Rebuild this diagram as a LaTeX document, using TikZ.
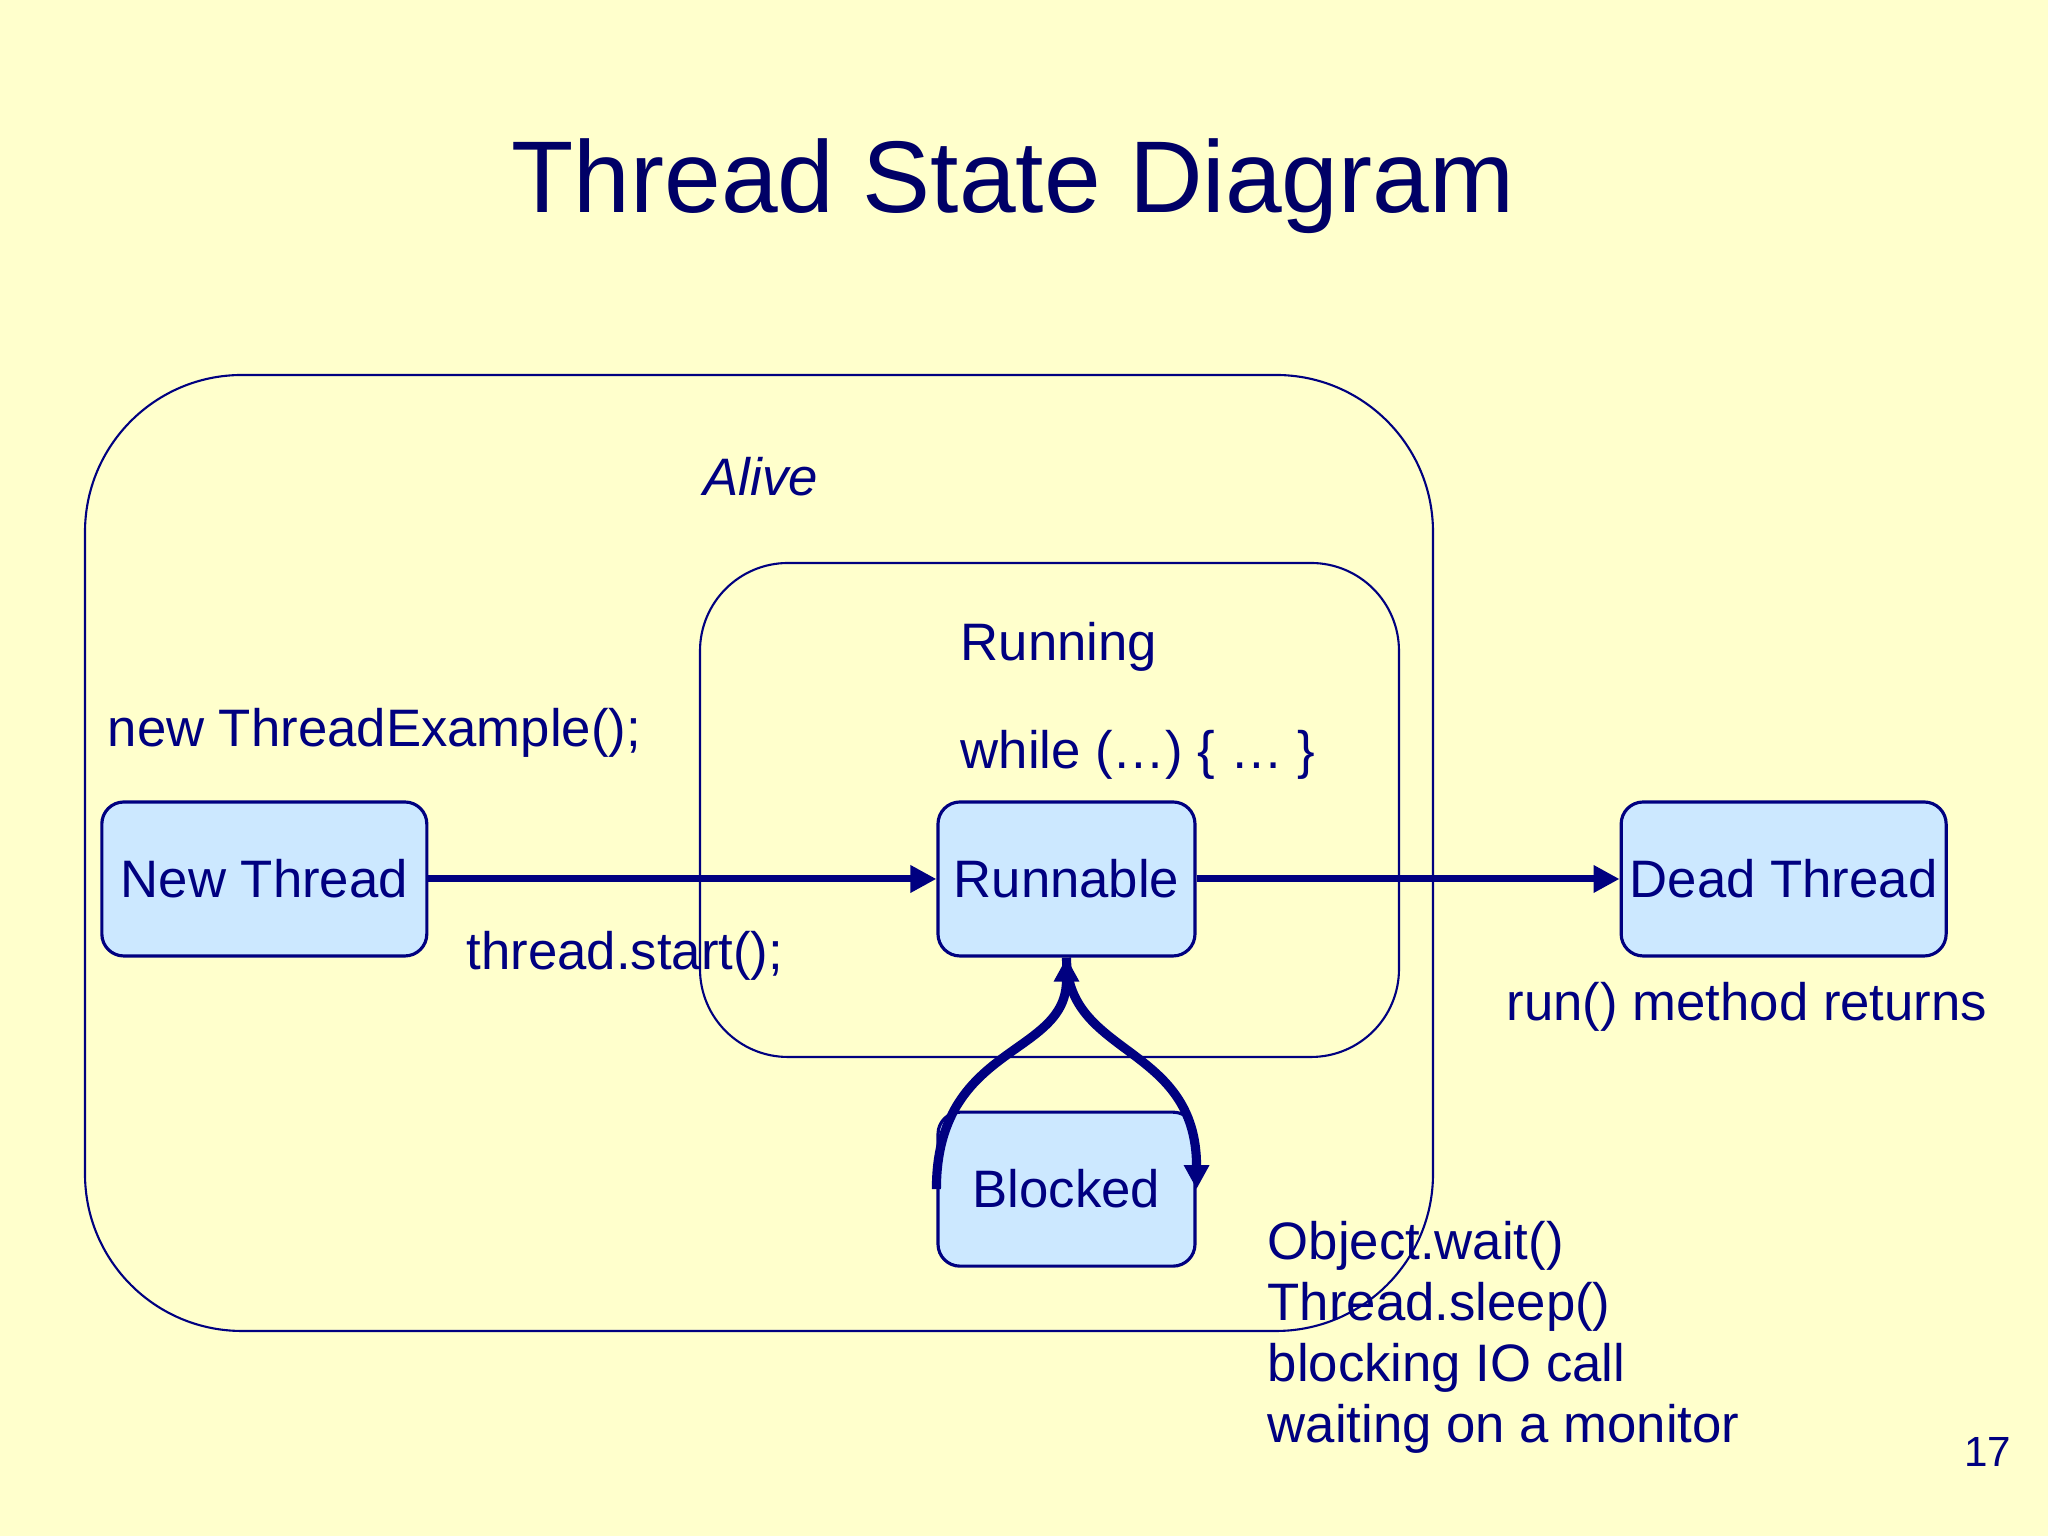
\documentclass[tikz,border=0pt]{standalone}
\usepackage{fontspec}
\setmainfont{Liberation Sans}
\usepackage{tikz}
\usetikzlibrary{positioning,arrows.meta}

\definecolor{slidebg}{RGB}{255,255,204}
\definecolor{navy}{RGB}{0,0,128}
\definecolor{titleblue}{RGB}{0,0,102}
\definecolor{statefill}{RGB}{204,232,255}

\tikzset{
  state/.style={draw=navy,line width=0.9pt,fill=statefill,rounded corners=0.22cm,
    minimum height=1.54cm,text=navy,font=\fontsize{15}{18}\selectfont,inner sep=0pt},
  label/.style={anchor=base west,inner sep=0pt,text=navy,font=\fontsize{15}{18}\selectfont},
  trans/.style={draw=navy,line width=2pt,-{Triangle[length=2.6mm,width=2.6mm]}},
  curved/.style={trans,line width=2.6pt,-{Triangle[length=2.4mm,width=2.4mm]}},
  region/.style={draw=navy,line width=0.6pt}
}

\begin{document}
\begin{tikzpicture}

  \fill[slidebg] (0,0) rectangle (20.48,15.36);

  \node[anchor=base,inner sep=0pt,text=titleblue,font=\fontsize{29}{34}\selectfont]
    (title) at (10.13,13.23) {Thread State Diagram};

  % alive and running regions
  \draw[region,rounded corners=1.57cm] (0.85,2.05) rectangle (14.33,11.61);
  \draw[region,rounded corners=0.88cm] (7.00,4.79) rectangle (13.99,9.73);

  % states
  \node[state,minimum width=2.57cm] (runnable) at (10.665,6.57) {Runnable};
  \node[state,minimum width=3.25cm,left=5.08cm of runnable] (newthr) {New Thread};
  \node[state,minimum width=3.25cm,right=4.23cm of runnable] (dead) {Dead Thread};
  \node[state,minimum width=2.57cm,below=1.53cm of runnable] (blocked) {Blocked};

  % transitions
  \draw[trans] (newthr) -- (runnable);
  \draw[trans] (runnable) -- (dead);
  \draw[curved] (blocked.west) .. controls +(0,1.46) and +(0,-1.0) .. (runnable.south);
  \draw[curved] (runnable.south) .. controls +(0,-1.0) and +(0,1.46) .. (blocked.east);

  % labels
  \node[label,font=\fontsize{15}{18}\selectfont\itshape] (alive) at (7.03,10.40) {Alive};
  \node[label] (running) at (9.60,8.75) {Running};
  \node[label] (loop) at (9.60,7.67) {while (…) \{ … \}};
  \node[label] (create) at (1.07,7.89) {new ThreadExample();};
  \node[label] (start) at (4.66,5.66) {thread.start();};
  \node[label] (returns) at (15.06,5.15) {run() method returns};
  \foreach \txt [count=\i] in {Object.wait(),Thread.sleep(),blocking IO call,waiting on a monitor}
    \node[label] (cause\i) at (12.67,{2.76-0.61*(\i-1)}) {\txt};

  \node[anchor=base east,inner sep=0pt,text=navy,font=\fontsize{12}{14}\selectfont]
    (page) at (20.12,0.69) {17};
\end{tikzpicture}
\end{document}
